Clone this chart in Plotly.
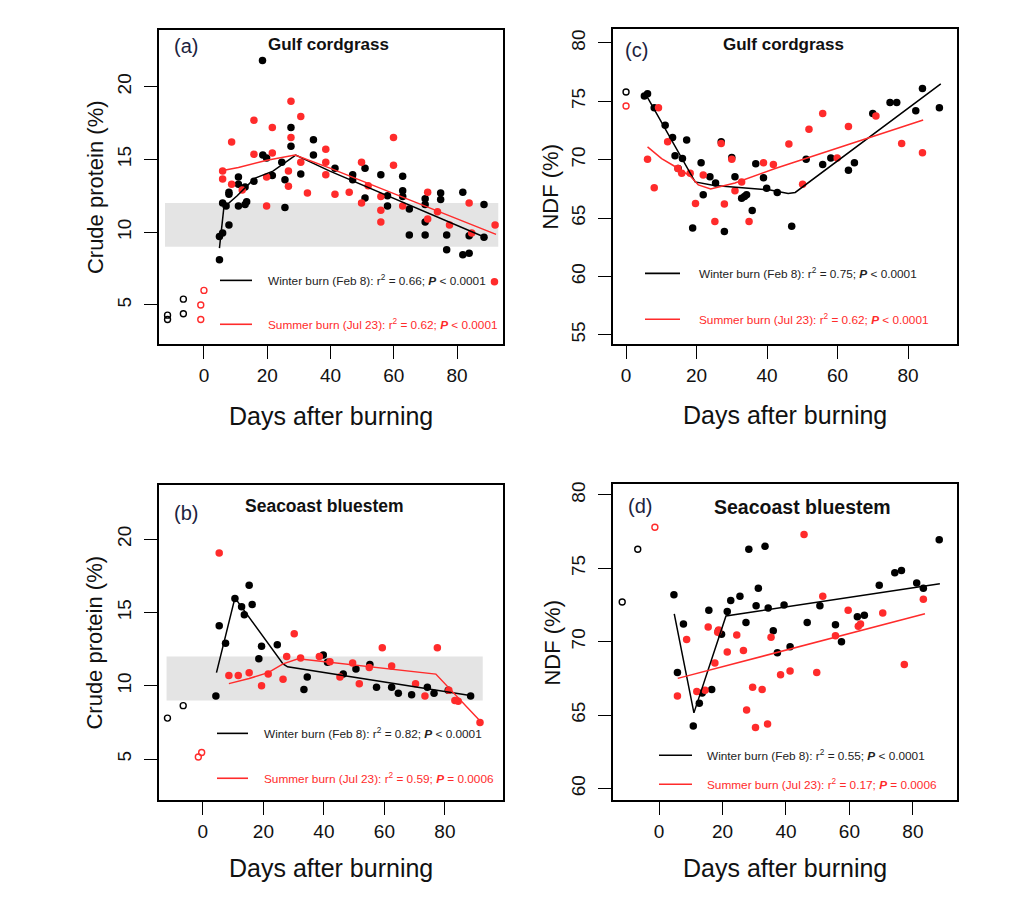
import plotly.graph_objects as go

W, H = 1024, 898
BLACK = "#000000"
RED = "#ff2b2b"
FONT = "Liberation Sans, Arial, sans-serif"

# ---------------- Panel (a): Gulf cordgrass, crude protein ----------------
a_wpre_x = [-11.5, -11.5, -6.5, -6.5]
a_wpre_y = [4.3, 4.0, 5.4, 4.4]
a_spre_x = [0, -1, -1]
a_spre_y = [6.0, 5.0, 4.0]
a_w_x = [18.5, 4.9, 4.9, 5.9, 7.9, 5.9, 7.0, 7.9, 7.9, 10.9, 10.9, 10.9, 13.0, 13.5, 13.0,
         15.8, 18.6, 19.8, 21.6, 24.6, 25.6, 25.6, 27.5, 27.5, 30.6, 34.6, 34.6, 41.4, 47.0,
         47.0, 50.9, 50.9, 55.9, 58.0, 58.0, 62.8, 62.8, 62.8, 64.9, 64.9, 69.9, 69.9, 69.9,
         69.9, 74.8, 74.8, 76.7, 76.7, 81.8, 81.8, 83.8, 83.8, 88.5, 88.5]
a_w_y = [21.8, 8.1, 9.7, 9.95, 10.5, 12.0, 11.8, 12.6, 12.75, 11.8, 13.3, 13.8, 11.9, 12.1, 13.1,
         13.5, 15.3, 15.1, 13.9, 14.8, 13.6, 11.7, 17.2, 15.9, 14.0, 16.35, 15.3, 14.4, 13.95,
         13.6, 14.4, 12.35, 13.95, 12.5, 11.8, 13.85, 12.85, 12.45, 11.6, 9.8, 12.3, 11.9, 10.7,
         9.8, 12.7, 12.25, 9.8, 8.8, 12.75, 8.45, 8.55, 9.75, 11.9, 9.65]
a_s_x = [15.8, 8.75, 21.6, 27.5, 30.6, 27.5, 15.8, 21.6, 5.9, 5.9, 8.75, 12.1, 19.8, 26.7, 26.7,
         19.8, 30.6, 32.7, 38.5, 38.5, 38.5, 41.4, 45.9, 49.8, 49.8, 51.9, 55.9, 55.9, 55.9,
         59.9, 59.9, 62.8, 70.7, 70.7, 73.8, 77.6, 83.8, 84.6, 92.0, 91.8]
a_s_y = [17.7, 16.2, 17.2, 19.0, 17.95, 16.5, 15.35, 15.45, 14.2, 13.65, 13.3, 12.9, 13.8, 14.2,
         13.15, 11.8, 14.8, 12.7, 15.7, 14.8, 13.95, 12.6, 12.75, 14.8, 12.0, 13.2, 12.45, 11.5,
         10.7, 16.5, 14.6, 11.8, 12.75, 10.9, 11.4, 10.5, 12.0, 9.95, 10.5, 6.6]
a_wfit_x = [4.9, 6.3, 10.5, 16, 21.8, 29, 39.8, 89.3]
a_wfit_y = [8.9, 11.7, 12.5, 13.7, 14.2, 15.3, 14.2, 9.6]
a_sfit_x = [5.1, 10.9, 19.9, 28.8, 39.8, 92.3]
a_sfit_y = [14.2, 14.45, 14.95, 15.3, 14.4, 9.85]

# ---------------- Panel (b): Seacoast bluestem, crude protein ----------------
b_wpre_x = [-11.7, -6.5]
b_wpre_y = [7.8, 8.65]
b_spre_x = [-1.5, -0.4]
b_spre_y = [5.15, 5.45]
b_w_x = [4.3, 5.4, 7.5, 10.6, 12.8, 13.7, 15.3, 16.3, 19.4, 18.5, 24.6, 33.4, 34.5, 39.8, 41.2,
         46.4, 50.6, 55.2, 57.4, 62.4, 64.6, 69.0, 74.2, 76.4, 81.1, 88.5]
b_w_y = [9.3, 14.1, 12.9, 15.95, 15.4, 14.85, 16.85, 15.55, 12.7, 11.85, 12.8, 9.75, 10.6, 12.1,
         11.6, 10.8, 11.15, 11.45, 9.9, 9.9, 9.5, 9.4, 9.9, 9.5, 9.7, 9.3]
b_s_x = [5.4, 8.6, 11.7, 15.3, 19.4, 21.6, 26.5, 27.7, 30.2, 32.3, 38.5, 42.0, 45.3, 49.5, 51.7,
         55.0, 59.3, 62.4, 70.3, 73.4, 77.5, 81.3, 83.3, 84.4, 91.6]
b_s_y = [19.05, 10.7, 10.7, 10.9, 10.0, 10.8, 10.45, 12.0, 13.55, 11.9, 12.0, 11.65, 10.6, 11.55,
         10.15, 11.25, 12.6, 11.35, 10.15, 9.3, 12.6, 9.7, 9.0, 8.95, 7.5]
b_wfit_x = [4.5, 10.6, 26.5, 28, 89.4]
b_wfit_y = [10.9, 16.0, 11.5, 11.3, 9.3]
b_sfit_x = [8.6, 15.3, 21.6, 26.5, 31.5, 77, 92.1]
b_sfit_y = [10.15, 10.5, 10.9, 11.5, 11.85, 10.8, 7.5]

# ---------------- Panel (c): Gulf cordgrass, NDF ----------------
c_wpre_x = [0]
c_wpre_y = [75.8]
c_spre_x = [0]
c_spre_y = [74.6]
c_w_x = [5.2, 6.1, 8.0, 11.1, 13.2, 13.9, 16.0, 17.2, 14.8, 18.9, 21.3, 21.9, 23.8, 25.4, 27.9,
         27.0, 30.0, 30.9, 32.8, 33.6, 34.2, 35.8, 36.8, 39.0, 39.9, 42.9, 47.0, 51.1, 55.8,
         58.1, 63.1, 64.8, 70.0, 74.9, 76.8, 82.2, 84.1, 88.9]
c_w_y = [75.45, 75.65, 74.45, 72.95, 71.9, 70.35, 70.1, 71.7, 69.25, 64.15, 69.75, 67.0, 68.55,
         68.0, 63.85, 71.55, 70.2, 68.55, 66.7, 66.85, 67.0, 65.65, 69.65, 68.45, 67.55, 67.2,
         64.3, 70.05, 69.6, 70.15, 69.1, 69.75, 73.95, 74.9, 74.9, 74.2, 76.1, 74.45]
c_s_x = [9.2, 6.1, 8.0, 11.8, 14.7, 15.8, 18.2, 19.7, 21.9, 25.2, 27.0, 27.9, 30.0, 30.9, 32.8,
         34.9, 39.0, 41.8, 46.2, 50.1, 51.9, 55.8, 59.9, 63.1, 70.9, 78.2, 84.1]
c_s_y = [74.45, 70.05, 67.6, 71.55, 69.25, 68.85, 68.85, 66.25, 68.7, 64.7, 71.4, 66.2, 70.05,
         67.35, 68.1, 64.7, 69.75, 69.6, 71.35, 67.9, 72.6, 73.95, 70.15, 72.85, 73.75, 71.4, 70.6]
c_wfit_x = [5.4, 19.6, 25, 40.9, 46, 48, 89.3]
c_wfit_y = [75.7, 68.1, 67.8, 67.4, 67.1, 67.2, 76.5]
c_sfit_x = [6.1, 10.1, 14, 18.2, 20.5, 24, 30.9, 42.3, 84.3]
c_sfit_y = [71.1, 70.1, 69.4, 68.6, 67.85, 67.5, 68.0, 69.25, 73.4]

# ---------------- Panel (d): Seacoast bluestem, NDF ----------------
d_wpre_x = [-11.6, -6.7]
d_wpre_y = [72.7, 76.3]
d_spre_x = [-1.3]
d_spre_y = [77.8]
d_w_x = [4.7, 7.7, 5.8, 10.8, 12.7, 13.6, 16.6, 15.7, 18.7, 19.7, 21.5, 22.6, 25.5, 27.4, 28.3,
         30.6, 31.3, 33.4, 34.4, 36.0, 37.3, 39.4, 41.3, 46.7, 50.7, 55.6, 57.5, 62.5, 64.7,
         69.4, 74.3, 76.4, 81.2, 83.3, 88.3]
d_w_y = [73.2, 71.2, 67.9, 64.25, 65.8, 66.5, 66.75, 72.15, 70.75, 70.5, 72.05, 72.8, 73.1, 71.3,
         76.3, 72.45, 73.65, 76.5, 72.3, 70.75, 69.25, 72.5, 69.65, 71.3, 72.45, 71.15, 70.0,
         71.7, 71.8, 73.85, 74.7, 74.85, 74.0, 73.65, 76.95]
d_s_x = [5.8, 8.7, 11.9, 14.5, 15.5, 17.6, 18.5, 18.8, 21.5, 24.5, 26.6, 27.6, 29.5, 30.4, 32.5,
         34.2, 35.3, 38.3, 41.3, 45.7, 49.7, 51.6, 55.6, 59.6, 62.8, 63.5, 70.5, 77.3, 83.3]
d_s_y = [66.3, 70.15, 66.6, 66.7, 71.0, 68.55, 70.65, 70.8, 69.3, 70.45, 69.4, 65.35, 66.9, 64.15,
         66.75, 64.4, 70.3, 67.75, 68.0, 77.3, 67.9, 73.1, 70.4, 72.15, 71.05, 71.2, 71.95, 68.45,
         72.9]
d_wfit_x = [4.8, 11.0, 21.1, 88.5]
d_wfit_y = [71.9, 65.15, 71.75, 73.95]
d_sfit_x = [5.9, 83.8]
d_sfit_y = [67.5, 71.9]

# ---------------- Text ----------------
x_title = "Days after burning"
cp_title = "Crude protein (%)"
ndf_title = "NDF (%)"
x_ticks = [0, 20, 40, 60, 80]
cp_ticks = [5, 10, 15, 20]
ndf_ticks_c = [55, 60, 65, 70, 75, 80]
ndf_ticks_d = [60, 65, 70, 75, 80]
band_lo, band_hi = 9, 12

panels = [
    dict(ax="", lab="(a)", sp="Gulf cordgrass",
         wpre=(a_wpre_x, a_wpre_y), spre=(a_spre_x, a_spre_y), w=(a_w_x, a_w_y), s=(a_s_x, a_s_y),
         wfit=(a_wfit_x, a_wfit_y), sfit=(a_sfit_x, a_sfit_y),
         wr="0.66", wp="&lt; 0.0001", sr="0.62", spv="&lt; 0.0001"),
    dict(ax="2", lab="(c)", sp="Gulf cordgrass",
         wpre=(c_wpre_x, c_wpre_y), spre=(c_spre_x, c_spre_y), w=(c_w_x, c_w_y), s=(c_s_x, c_s_y),
         wfit=(c_wfit_x, c_wfit_y), sfit=(c_sfit_x, c_sfit_y),
         wr="0.75", wp="&lt; 0.0001", sr="0.62", spv="&lt; 0.0001"),
    dict(ax="3", lab="(b)", sp="Seacoast bluestem",
         wpre=(b_wpre_x, b_wpre_y), spre=(b_spre_x, b_spre_y), w=(b_w_x, b_w_y), s=(b_s_x, b_s_y),
         wfit=(b_wfit_x, b_wfit_y), sfit=(b_sfit_x, b_sfit_y),
         wr="0.82", wp="&lt; 0.0001", sr="0.59", spv="= 0.0006"),
    dict(ax="4", lab="(d)", sp="Seacoast bluestem",
         wpre=(d_wpre_x, d_wpre_y), spre=(d_spre_x, d_spre_y), w=(d_w_x, d_w_y), s=(d_s_x, d_s_y),
         wfit=(d_wfit_x, d_wfit_y), sfit=(d_sfit_x, d_sfit_y),
         wr="0.55", wp="&lt; 0.0001", sr="0.17", spv="= 0.0006"),
]

# ---------------- Layout geometry (pixels) ----------------
def px(x):
    return x / W

def py(y):
    return 1 - y / H

geom = {
    "": dict(box=(159, 503, 28, 343), xr=[-14.2, 94.5], yr=[2.3, 23.9], yt=cp_ticks,
             ytitle=cp_title, ytp=(95, 185.5), xtp=(331, 415),
             labp=(185.5, 44.5), spp=(328.5, 43), spsize=17,
             leg=(220, 252, 266, 279, 323), band=(-12.3, 93.0)),
    "2": dict(box=(613, 957, 27, 343), xr=[-3.7, 93.9], yr=[54.2, 81.2], yt=ndf_ticks_c,
              ytitle=ndf_title, ytp=(551, 185), xtp=(785, 414),
              labp=(636, 48), spp=(783.5, 42.5), spsize=17,
              leg=(645, 680, 697, 272, 318), band=None),
    "3": dict(box=(159, 503, 484, 800), xr=[-14.5, 99.2], yr=[2.2, 23.7], yt=cp_ticks,
              ytitle=cp_title, ytp=(95, 642), xtp=(331, 868),
              labp=(185.5, 512), spp=(324, 505), spsize=17.5,
              leg=(217, 248, 262, 733, 778), band=(-12.0, 92.5)),
    "4": dict(box=(613, 957, 483, 800), xr=[-14.5, 93.9], yr=[59.2, 80.75], yt=ndf_ticks_d,
              ytitle=ndf_title, ytp=(553, 642), xtp=(785, 868),
              labp=(640, 505), spp=(802, 506), spsize=19.5,
              leg=(659, 692, 705, 755, 784), band=None),
}

fig = go.Figure()
annotations = []
shapes = []
layout = {}

for p in panels:
    k = p["ax"]
    g = geom[k]
    xa, ya = "x" + k, "y" + k
    fig.add_trace(go.Scatter(x=p["wpre"][0], y=p["wpre"][1], xaxis=xa, yaxis=ya, mode="markers",
                             marker=dict(symbol="circle-open", size=6, color=BLACK,
                                         line=dict(width=1.4, color=BLACK)), showlegend=False))
    fig.add_trace(go.Scatter(x=p["spre"][0], y=p["spre"][1], xaxis=xa, yaxis=ya, mode="markers",
                             marker=dict(symbol="circle-open", size=6, color=RED,
                                         line=dict(width=1.4, color=RED)), showlegend=False))
    fig.add_trace(go.Scatter(x=p["w"][0], y=p["w"][1], xaxis=xa, yaxis=ya, mode="markers",
                             marker=dict(symbol="circle", size=7.5, color=BLACK), showlegend=False))
    fig.add_trace(go.Scatter(x=p["s"][0], y=p["s"][1], xaxis=xa, yaxis=ya, mode="markers",
                             marker=dict(symbol="circle", size=7.5, color=RED), showlegend=False))
    fig.add_trace(go.Scatter(x=p["wfit"][0], y=p["wfit"][1], xaxis=xa, yaxis=ya, mode="lines",
                             line=dict(color=BLACK, width=1.5), showlegend=False))
    fig.add_trace(go.Scatter(x=p["sfit"][0], y=p["sfit"][1], xaxis=xa, yaxis=ya, mode="lines",
                             line=dict(color=RED, width=1.5), showlegend=False))

    x0, x1, y0, y1 = g["box"]
    xkey = "xaxis" + k
    ykey = "yaxis" + k
    layout[xkey] = dict(domain=[px(x0), px(x1)], range=g["xr"], anchor=ya,
                        tickvals=x_ticks, ticks="outside", ticklen=13, tickwidth=1.3,
                        tickcolor=BLACK, showline=True, mirror=True, linecolor=BLACK,
                        linewidth=1.5, showgrid=False, zeroline=False,
                        tickfont=dict(family=FONT, size=19, color="#111"))
    layout[ykey] = dict(domain=[py(y1), py(y0)], range=g["yr"], anchor=xa,
                        tickvals=g["yt"], ticks="outside", ticklen=13, tickwidth=1.3,
                        tickcolor=BLACK, tickangle=-90, showline=True, mirror=True,
                        linecolor=BLACK, linewidth=1.5, showgrid=False, zeroline=False,
                        ticklabelstandoff=6,
                        tickfont=dict(family=FONT, size=19, color="#111"))

    if g["band"] is not None:
        shapes.append(dict(type="rect", xref=xa, yref=ya, x0=g["band"][0], x1=g["band"][1],
                           y0=band_lo, y1=band_hi, fillcolor="#e4e4e4", line=dict(width=0),
                           layer="below"))

    annotations.append(dict(text=g["ytitle"], x=px(g["ytp"][0]), y=py(g["ytp"][1]),
                            xref="paper", yref="paper", textangle=-90, showarrow=False,
                            xanchor="center", yanchor="middle",
                            font=dict(family=FONT, size=22, color="#111")))
    annotations.append(dict(text=x_title, x=px(g["xtp"][0]), y=py(g["xtp"][1]),
                            xref="paper", yref="paper", showarrow=False,
                            xanchor="center", yanchor="middle",
                            font=dict(family=FONT, size=25, color="#111")))
    annotations.append(dict(text=p["lab"], x=px(g["labp"][0]), y=py(g["labp"][1]),
                            xref="paper", yref="paper", showarrow=False,
                            xanchor="center", yanchor="middle",
                            font=dict(family=FONT, size=20, color="#1c2340")))
    annotations.append(dict(text="<b>" + p["sp"] + "</b>", x=px(g["spp"][0]), y=py(g["spp"][1]),
                            xref="paper", yref="paper", showarrow=False,
                            xanchor="center", yanchor="middle",
                            font=dict(family=FONT, size=g["spsize"], color="#111")))
    lx0, lx1, tx, wy, sy = g["leg"]
    shapes.append(dict(type="line", xref="paper", yref="paper", x0=px(lx0), x1=px(lx1),
                       y0=py(wy), y1=py(wy), line=dict(color=BLACK, width=1.6)))
    shapes.append(dict(type="line", xref="paper", yref="paper", x0=px(lx0), x1=px(lx1),
                       y0=py(sy), y1=py(sy), line=dict(color=RED, width=1.6)))
    wtxt = ("Winter burn (Feb 8): r<sup>2</sup> = " + p["wr"] + "; <b><i>P</i></b> " + p["wp"])
    stxt = ("Summer burn (Jul 23): r<sup>2</sup> = " + p["sr"] + "; <b><i>P</i></b> " + p["spv"])
    annotations.append(dict(text=wtxt, x=px(tx), y=py(wy), xref="paper", yref="paper",
                            showarrow=False, xanchor="left", yanchor="middle",
                            font=dict(family=FONT, size=11.8, color="#222")))
    annotations.append(dict(text=stxt, x=px(tx), y=py(sy), xref="paper", yref="paper",
                            showarrow=False, xanchor="left", yanchor="middle",
                            font=dict(family=FONT, size=11.8, color=RED)))

fig.update_layout(width=W, height=H, margin=dict(l=0, r=0, t=0, b=0),
                  paper_bgcolor="white", plot_bgcolor="white", showlegend=False,
                  annotations=annotations, shapes=shapes, **layout)

fig.write_html("out.html", config={"displayModeBar": False})
